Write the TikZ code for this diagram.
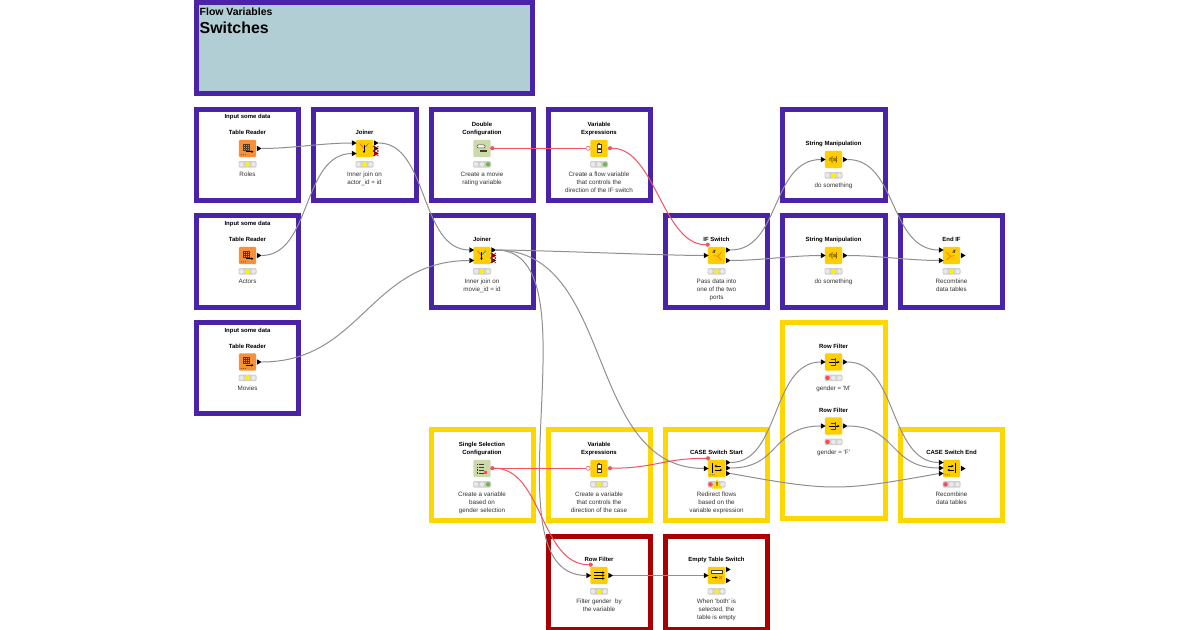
\documentclass[tikz,border=0pt]{standalone}
\usepackage{fontspec}
\usepackage{xcolor}
\usepackage{tikz}
\usetikzlibrary{arrows.meta, positioning, shapes.geometric}
\setmainfont{Liberation Sans}

\definecolor{framepurple}{HTML}{4A23A8}
\definecolor{frameyellow}{HTML}{FFD700}
\definecolor{framered}{HTML}{AA0000}
\definecolor{headerfill}{HTML}{B2CED5}
\definecolor{readerorange}{HTML}{F6913A}
\definecolor{manipyellow}{HTML}{FFCE00}
\definecolor{configgreen}{HTML}{CBDAAB}
\definecolor{linkgray}{HTML}{8F8F8F}
\definecolor{varred}{HTML}{F4525F}
\definecolor{lampbarc}{HTML}{CFCFCF}
\definecolor{lampoff}{HTML}{E9E9E9}
\definecolor{lampyellow}{HTML}{FFF000}
\definecolor{lampgreen}{HTML}{6CB84A}
\definecolor{lampred}{HTML}{F0505A}
\definecolor{iconink}{HTML}{4A3C28}

\tikzset{
  groupframe/.style={line width=5bp},
  icon/.style={rectangle, rounded corners=1.2bp, minimum size=17.4bp, inner sep=0pt, outer sep=0pt},
  nodetitle/.style={font=\fontsize{6}{8.2}\selectfont\bfseries, align=center, inner sep=0pt, outer sep=0pt, text depth=1.5bp},
  desctext/.style={font=\fontsize{6.3}{8}\selectfont, text=black!80, align=center, inner sep=0pt, outer sep=0pt},
  lampbar/.style={rectangle, rounded corners=1.2bp, fill=lampbarc, minimum width=18bp, minimum height=6.4bp, inner sep=0pt, outer sep=0pt},
  portmark/.style={isosceles triangle, isosceles triangle stretches, fill=black, minimum width=5.4bp, minimum height=4.6bp, inner sep=0pt, outer sep=0pt},
  varport/.style={circle, fill=varred, minimum size=4.2bp, inner sep=0pt, outer sep=0pt},
  varopen/.style={circle, fill=white, draw=varred, line width=.5bp, minimum size=4.2bp, inner sep=0pt, outer sep=0pt},
  datalink/.style={draw=linkgray, line width=1bp},
  flowlink/.style={draw=varred, line width=1bp},
  glyph/.style={draw=iconink, line width=.5bp},
  glyphtip/.style={-{Stealth[length=2.2bp,width=2.6bp]}, draw=black, line width=.7bp},
}

\begin{document}
\begin{tikzpicture}[x=1bp, y=-1bp]
\useasboundingbox (0,0) rectangle (1200,630);
% Header box
\draw[groupframe, draw=framepurple, fill=headerfill] (196.5,2.5) rectangle (532.5,94);
\node[font=\fontsize{10.5}{12}\selectfont\bfseries, anchor=base west, inner sep=0pt] (flowtitle) at (199.5,15.7) {Flow Variables};
\node[font=\fontsize{16}{18}\selectfont\bfseries, anchor=base west, inner sep=0pt] (switchtitle) at (199.5,33.7) {Switches};
% Group frames
\foreach \xa/\ya/\xb/\yb/\col in {
  194/107/301/203/framepurple, 311/107/419/203/framepurple, 429/107/536/203/framepurple,
  546/107/653/203/framepurple, 780/107/888/203/framepurple,
  194/213/301/310/framepurple, 429/213/536/310/framepurple, 663/213/770/310/framepurple,
  780/213/888/310/framepurple, 898/213/1005/310/framepurple, 194/320/301/416/framepurple,
  780/320/888/521/frameyellow, 429/427/536/523/frameyellow, 546/427/653/523/frameyellow,
  663/427/770/523/frameyellow, 898/427/1005/523/frameyellow,
  546/534/653/632/framered, 663/534/770/632/framered} {
  \draw[groupframe, draw=\col, fill=white] (\xa+2.5,\ya+2.5) rectangle (\xb-2.5,\yb-2.5);
}
% Workflow nodes: icon, title, status lamps, description
\foreach \name/\x/\y/\col/\ttl/\txt in {
  trA/247.5/148.5/readerorange/{Table Reader}/{Roles},
  trB/247.5/255.5/readerorange/{Table Reader}/{Actors},
  trC/247.5/362/readerorange/{Table Reader}/{Movies},
  joinA/364.5/148.5/manipyellow/{Joiner}/{Inner join on\\actor\_id = id},
  joinB/482/255.5/manipyellow/{Joiner}/{Inner join on\\movie\_id = id},
  dcfg/482/148.5/configgreen/{Double\\Configuration}/{Create a movie\\rating variable},
  veA/599/148.5/manipyellow/{Variable\\Expressions}/{Create a flow variable\\that controls the\\direction of the IF switch},
  ifsw/716.5/255.5/manipyellow/{IF Switch}/{Pass data into\\one of the two\\ports},
  smA/833.5/159.5/manipyellow/{String Manipulation}/{do something},
  smB/833.5/255.5/manipyellow/{String Manipulation}/{do something},
  endif/951.5/255.5/manipyellow/{End IF}/{Recombine\\data tables},
  rfM/833.5/362/manipyellow/{Row Filter}/{gender = \textquotesingle M\textquotesingle},
  rfF/833.5/426/manipyellow/{Row Filter}/{gender = \textquotesingle F\textquotesingle},
  scfg/482/468.5/configgreen/{Single Selection\\Configuration}/{Create a variable\\based on\\gender selection},
  veB/599/468.5/manipyellow/{Variable\\Expressions}/{Create a variable\\that controls the\\direction of the case},
  csS/716.5/468.5/manipyellow/{CASE Switch Start}/{Redirect flows\\based on the\\variable expression},
  csE/951.5/468.5/manipyellow/{CASE Switch End}/{Recombine\\data tables},
  rfG/599/575.5/manipyellow/{Row Filter}/{Filter gender\ \ by\\the variable},
  ets/716.5/575.5/manipyellow/{Empty Table Switch}/{When \textquotesingle both\textquotesingle\ is\\selected, the\\table is empty}} {
  \node[icon, fill=\col] (\name) at (\x,\y) {};
  \node[nodetitle, above=3.6bp of \name] (\name-title) {\ttl};
  \node[lampbar, below=4bp of \name] (\name-lamp) {};
  \foreach \dx in {-6,0,6}
    \fill[lampoff] ([xshift=\dx bp]\name-lamp.center) circle (2.3bp);
  \node[desctext, below=4.5bp of \name-lamp] (\name-desc) {\txt};
}
% Lit lamps
\foreach \name in {trA,trB,trC,joinA,joinB,ifsw,smA,smB,endif,veB,rfG,ets}
  \fill[lampyellow] (\name-lamp.center) circle (2.3bp);
\foreach \name in {dcfg,veA,scfg}
  \fill[lampgreen] ([xshift=6bp]\name-lamp.center) circle (2.3bp);
\foreach \name in {rfM,rfF,csS,csE}
  \fill[lampred] ([xshift=-6bp]\name-lamp.center) circle (2.3bp);
% Group labels
\foreach \name in {trA,trB,trC}
  \node[nodetitle, above=10bp of \name-title] (\name-group) {Input some data};
% Warning on the case switch
\fill[frameyellow] (712,488.5) -- (717,479) -- (722,488.5) -- cycle;
\node[font=\fontsize{6}{6}\selectfont\bfseries, inner sep=0pt] (csS-warn) at (717,484.8) {!};
% Data ports
\foreach \port/\icon/\dx/\dy in {
  trA-out/trA/11/0, trB-out/trB/11/0, trC-out/trC/11/0,
  joinA-inA/joinA/-11/-5.5, joinA-inB/joinA/-11/5, joinA-out/joinA/11/-5.5, joinA-outB/joinA/11/0, joinA-outC/joinA/11/5,
  joinB-inA/joinB/-11/-5.5, joinB-inB/joinB/-11/5, joinB-out/joinB/11/-5.5, joinB-outB/joinB/11/0, joinB-outC/joinB/11/5,
  ifsw-in/ifsw/-11/0, ifsw-outA/ifsw/11/-5.5, ifsw-outB/ifsw/11/5,
  smA-in/smA/-11/0, smA-out/smA/11/0, smB-in/smB/-11/0, smB-out/smB/11/0,
  endif-inA/endif/-11/-5.5, endif-inB/endif/-11/5, endif-out/endif/11/0,
  rfM-in/rfM/-11/0, rfM-out/rfM/11/0, rfF-in/rfF/-11/0, rfF-out/rfF/11/0,
  csS-in/csS/-11/0, csS-outA/csS/11/-6, csS-outB/csS/11/-.5, csS-outC/csS/11/5,
  csE-inA/csE/-11/-6, csE-inB/csE/-11/-.5, csE-inC/csE/-11/5, csE-out/csE/11/0,
  rfG-in/rfG/-11/0, rfG-out/rfG/11/0,
  ets-in/ets/-11/0, ets-outA/ets/11/-6, ets-outB/ets/11/5} {
  \node[portmark] (\port) at ([shift={(\dx,\dy)}]\icon.center) {};
}
% Flow variable ports
\node[varport] (dcfg-var) at ([shift={(10.3,-.3)}]dcfg.center) {};
\node[varopen] (veA-varin) at ([shift={(-11,-.3)}]veA.center) {};
\node[varport] (veA-varout) at ([shift={(11,-.3)}]veA.center) {};
\node[varport] (ifsw-var) at ([shift={(-8.8,-10.8)}]ifsw.center) {};
\node[varport] (scfg-var) at ([shift={(10.3,-.3)}]scfg.center) {};
\node[varopen] (veB-varin) at ([shift={(-11,-.3)}]veB.center) {};
\node[varport] (veB-varout) at ([shift={(11,-.3)}]veB.center) {};
\node[varport] (csS-var) at ([shift={(-8.5,-10.2)}]csS.center) {};
\node[varport] (rfG-var) at ([shift={(-8.3,-10.8)}]rfG.center) {};
% Crossed out joiner ports
\foreach \port in {joinA-outB,joinA-outC,joinB-outB,joinB-outC} {
  \draw[red!85!black, line width=.7bp] ([shift={(-2.5,-2.5)}]\port.center) -- ([shift={(2.8,2.5)}]\port.center);
  \draw[red!85!black, line width=.7bp] ([shift={(-2.5,2.5)}]\port.center) -- ([shift={(2.8,-2.5)}]\port.center);
}
% Icon glyphs
\foreach \name in {trA,trB,trC} {
  \begin{scope}[shift={(\name)}]
    \draw[glyph] (-4.5,-4.5) rectangle (1.5,1.5);
    \draw[glyph] (-2.5,-4.5) -- (-2.5,1.5) (-.5,-4.5) -- (-.5,1.5) (-4.5,-2.5) -- (1.5,-2.5) (-4.5,-.5) -- (1.5,-.5);
    \draw[glyphtip] (-1.5,3.2) -- (6,3.2);
    \foreach \k in {-6.3,-4.3,-2.3} \fill[iconink] (\k,6.4) circle (.55bp);
  \end{scope}
}
\foreach \name in {joinA,joinB} {
  \begin{scope}[shift={(\name)}]
    \draw[red!70, line width=.6bp] (-5,-5) -- (-.7,-.5);
    \draw[cyan!70!blue, line width=.6bp] (4,-5) -- (-.2,-.5);
    \draw[glyphtip] (-.5,-3) -- (-.5,4.5);
  \end{scope}
}
\begin{scope}[shift={(dcfg)}]
  \draw[glyph, fill=white, rounded corners=1bp] (-5,-3.5) rectangle (3,-.5);
  \fill[iconink] (-2,1.5) rectangle (5,3.5);
\end{scope}
\foreach \name in {veA,veB} {
  \begin{scope}[shift={(\name)}]
    \draw[glyph, fill=white] (-1.8,-3.8) rectangle (1.8,3.8);
    \fill[iconink] (-1.8,-.5) rectangle (1.8,1.5);
    \draw[glyph] (-1,-5) -- (1,-5);
  \end{scope}
}
\begin{scope}[shift={(scfg)}]
  \foreach \k in {-4,-1.2,1.6,4.4} {
    \fill[iconink] (-5,\k-.7) rectangle (-3.6,\k+.7);
    \draw[glyph] (-2.6,\k) -- (2,\k);
  }
  \fill[varred] (1.5,2) rectangle (5,5.5);
\end{scope}
\begin{scope}[shift={(ifsw)}]
  \node[font=\fontsize{4.5}{5}\selectfont\itshape\bfseries, inner sep=0pt] (ifsw-if) at (-2.4,-3.6) {if};
  \draw[orange!85!red, line width=.7bp] (-3,.2) -- (1,.7) -- (5,-3) (1,.7) -- (5,4.5);
\end{scope}
\begin{scope}[shift={(endif)}]
  \node[font=\fontsize{4.5}{5}\selectfont\itshape\bfseries, inner sep=0pt] (endif-if) at (2.4,-3.6) {if};
  \draw[orange!85!red, line width=.7bp] (3,.2) -- (-1,.7) -- (-5,-3) (-1,.7) -- (-5,4.5);
\end{scope}
\node[font=\fontsize{6}{6}\selectfont, inner sep=0pt] (smA-sym) at (smA) {r[s]};
\node[font=\fontsize{6}{6}\selectfont, inner sep=0pt] (smB-sym) at (smB) {r[s]};
\foreach \name in {rfM,rfF} {
  \begin{scope}[shift={(\name)}]
    \draw[glyphtip] (-5,0) -- (6,0);
    \draw[glyph] (-3,-3) -- (1,-3) (-3,3) -- (1,3) (1.5,-4) -- (1.5,4);
  \end{scope}
}
\begin{scope}[shift={(rfG)}]
  \draw[glyphtip] (-5.5,-2.8) -- (5.5,-2.8);
  \draw[glyphtip] (-5.5,0) -- (5.5,0);
  \draw[glyphtip] (-5.5,3) -- (5.5,3);
\end{scope}
\begin{scope}[shift={(csS)}]
  \draw[black, line width=1bp] (-4,-5.5) -- (-4,4);
  \draw[glyphtip] (4.5,-2.5) -- (-2,-2.5);
  \draw[glyphtip] (-2,1.5) -- (5.5,1.5);
  \foreach \k in {-6.3,-4.3,-2.3} \fill[iconink] (\k,6.4) circle (.55bp);
\end{scope}
\begin{scope}[shift={(csE)}]
  \draw[black, line width=1bp] (4,-5.5) -- (4,4);
  \draw[glyphtip] (-4,-2.5) -- (2,-2.5);
  \draw[glyphtip] (2,1.5) -- (-4,1.5);
  \foreach \k in {-6.3,-4.3,-2.3} \fill[iconink] (\k,6.4) circle (.55bp);
\end{scope}
\begin{scope}[shift={(ets)}]
  \draw[glyph, fill=white] (-5.5,-5) rectangle (5.5,-2);
  \draw[glyphtip] (-4.5,2) -- (1,2);
  \draw[varred, line width=.7bp] (2.5,.5) -- (5.5,3.5) (2.5,3.5) -- (5.5,.5);
\end{scope}
% Data links
\draw[datalink] (trA-out.east) .. controls +(30,0) and +(-30,0) .. (joinA-inA.west);
\draw[datalink] (trB-out.east) .. controls +(50,0) and +(-50,0) .. (joinA-inB.west);
\draw[datalink] (joinA-out.east) .. controls +(50,0) and +(-50,0) .. (joinB-inA.west);
\draw[datalink] (trC-out.east) .. controls +(100,0) and +(-100,0) .. (joinB-inB.west);
\draw[datalink] (joinB-out.east) .. controls +(40,0) and +(-40,0) .. (ifsw-in.west);
\draw[datalink] (joinB-out.east) .. controls +(120,0) and +(-120,0) .. (csS-in.west);
\draw[datalink] (joinB-out.east) .. controls +(105,0) and +(-105,0) .. (rfG-in.west);
\draw[datalink] (ifsw-outA.east) .. controls +(50,0) and +(-50,0) .. (smA-in.west);
\draw[datalink] (ifsw-outB.east) .. controls +(30,0) and +(-30,0) .. (smB-in.west);
\draw[datalink] (smA-out.east) .. controls +(50,0) and +(-50,0) .. (endif-inA.west);
\draw[datalink] (smB-out.east) .. controls +(30,0) and +(-30,0) .. (endif-inB.west);
\draw[datalink] (csS-outA.east) .. controls +(50,0) and +(-50,0) .. (rfM-in.west);
\draw[datalink] (csS-outB.east) .. controls +(50,0) and +(-50,0) .. (rfF-in.west);
\draw[datalink] (csS-outC.east) .. controls +(100,18) and +(-100,18) .. (csE-inC.west);
\draw[datalink] (rfM-out.east) .. controls +(50,0) and +(-50,0) .. (csE-inA.west);
\draw[datalink] (rfF-out.east) .. controls +(50,0) and +(-50,0) .. (csE-inB.west);
\draw[datalink] (rfG-out.east) -- (ets-in.west);
% Flow variable links
\draw[flowlink] (dcfg-var) -- (veA-varin);
\draw[flowlink] (veA-varout) .. controls +(45,0) and +(-45,0) .. (ifsw-var);
\draw[flowlink] (scfg-var) -- (veB-varin);
\draw[flowlink] (veB-varout) .. controls +(45,0) and +(-45,0) .. (csS-var);
\draw[flowlink] (scfg-var) .. controls +(50,0) and +(-50,0) .. (rfG-var);
\end{tikzpicture}
\end{document}
